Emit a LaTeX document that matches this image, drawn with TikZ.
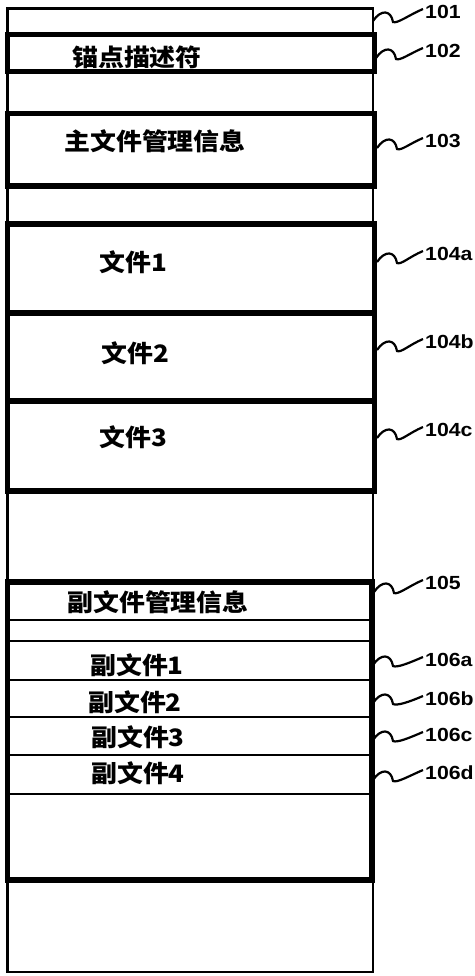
\documentclass[tikz,border=0pt]{standalone}
\usepackage{fontspec}
\setmainfont{Liberation Sans}[FakeStretch=1.12]
\newfontfamily\cjk{Noto Sans CJK SC}[FakeStretch=1.08]
\begin{document}
\begin{tikzpicture}[x=1pt, y=-1pt,
        thin line/.style={line width=2.4pt},
        thick line/.style={line width=5.5pt},
        part/.style={inner sep=0pt, font=\cjk\bfseries\fontsize{24}{25}\selectfont},
        num/.style={anchor=west, inner sep=0pt, font=\bfseries\fontsize{19}{19}\selectfont},
        wave/.style={line width=2.2pt}]
        \useasboundingbox (0,0) rectangle (474,976);

        % Boxes
        \draw[thin line] (7.5,8.5) rectangle (373,972);
        \draw[thick line] (7.5,34.5) rectangle (374.5,71.5);
        \draw[thick line] (7.5,113.5) rectangle (374.5,186);
        \draw[thick line] (7.5,224) rectangle (374.5,313);
        \draw[thick line] (7.5,313) rectangle (374.5,401);
        \draw[thick line] (7.5,401) rectangle (374.5,491);
        \draw[thick line] (7.5,582) rectangle (372,880);
        \draw[thin line] (7.5,620) -- (372,620);
        \draw[thin line] (7.5,641) -- (372,641);
        \draw[thin line] (7.5,680) -- (372,680);
        \draw[thin line] (7.5,717) -- (372,717);
        \draw[thin line] (7.5,755) -- (372,755);
        \draw[thin line] (7.5,794) -- (372,794);

        % Texts
        \node[part] (anchor) at (137,57) {锚点描述符};
        \node[part] (mainmgmt) at (155,141) {主文件管理信息};
        \node[part] (file1) at (133,262) {文件1};
        \node[part] (file2) at (135,353) {文件2};
        \node[part] (file3) at (133,437) {文件3};
        \node[part] (submgmt) at (158,602) {副文件管理信息};
        \node[part] (sub1) at (137,665) {副文件1};
        \node[part] (sub2) at (135,702) {副文件2};
        \node[part] (sub3) at (138,737) {副文件3};
        \node[part] (sub4) at (138,773) {副文件4};

        % Reference numbers
        \node[num] (n101) at (425,12) {101};
        \node[num] (n102) at (425,51) {102};
        \node[num] (n103) at (425,141) {103};
        \node[num] (n104a) at (425,254) {104a};
        \node[num] (n104b) at (425,342) {104b};
        \node[num] (n104c) at (425,430) {104c};
        \node[num] (n105) at (425,583) {105};
        \node[num] (n106a) at (425,660) {106a};
        \node[num] (n106b) at (425,699) {106b};
        \node[num] (n106c) at (425,735) {106c};
        \node[num] (n106d) at (425,773) {106d};

        \coordinate (s101) at (373,21);
        \coordinate (s102) at (376,58);
        \coordinate (s103) at (377,148);
        \coordinate (s104a) at (377,262);
        \coordinate (s104b) at (377,350);
        \coordinate (s104c) at (377,438);
        \coordinate (s105) at (374,592);
        \coordinate (s106a) at (373,665);
        \coordinate (s106b) at (373,703);
        \coordinate (s106c) at (373,740);
        \coordinate (s106d) at (373,780);

        % Leaders
        \draw[wave] (s101) .. controls +(8,-12) and +(-2,-12) .. ++(20,1) .. controls +(4,2) and +(-14,6) .. ([shift={(-2,-3)}]n101.west);
        \draw[wave] (s102) .. controls +(8,-12) and +(-2,-12) .. ++(20,1) .. controls +(4,2) and +(-14,6) .. ([shift={(-2,-3)}]n102.west);
        \draw[wave] (s103) .. controls +(8,-12) and +(-2,-12) .. ++(20,1) .. controls +(4,2) and +(-14,6) .. ([shift={(-2,-3)}]n103.west);
        \draw[wave] (s104a) .. controls +(8,-12) and +(-2,-12) .. ++(20,1) .. controls +(4,2) and +(-14,6) .. ([shift={(-2,-3)}]n104a.west);
        \draw[wave] (s104b) .. controls +(8,-12) and +(-2,-12) .. ++(20,1) .. controls +(4,2) and +(-14,6) .. ([shift={(-2,-3)}]n104b.west);
        \draw[wave] (s104c) .. controls +(8,-12) and +(-2,-12) .. ++(20,1) .. controls +(4,2) and +(-14,6) .. ([shift={(-2,-3)}]n104c.west);
        \draw[wave] (s105) .. controls +(8,-12) and +(-2,-12) .. ++(20,1) .. controls +(4,2) and +(-14,6) .. ([shift={(-2,-3)}]n105.west);
        \draw[wave] (s106a) .. controls +(8,-12) and +(-2,-12) .. ++(20,1) .. controls +(4,2) and +(-14,6) .. ([shift={(-2,-3)}]n106a.west);
        \draw[wave] (s106b) .. controls +(8,-12) and +(-2,-12) .. ++(20,1) .. controls +(4,2) and +(-14,6) .. ([shift={(-2,-3)}]n106b.west);
        \draw[wave] (s106c) .. controls +(8,-12) and +(-2,-12) .. ++(20,1) .. controls +(4,2) and +(-14,6) .. ([shift={(-2,-3)}]n106c.west);
        \draw[wave] (s106d) .. controls +(8,-12) and +(-2,-12) .. ++(20,1) .. controls +(4,2) and +(-14,6) .. ([shift={(-2,-3)}]n106d.west);
\end{tikzpicture}
\end{document}
